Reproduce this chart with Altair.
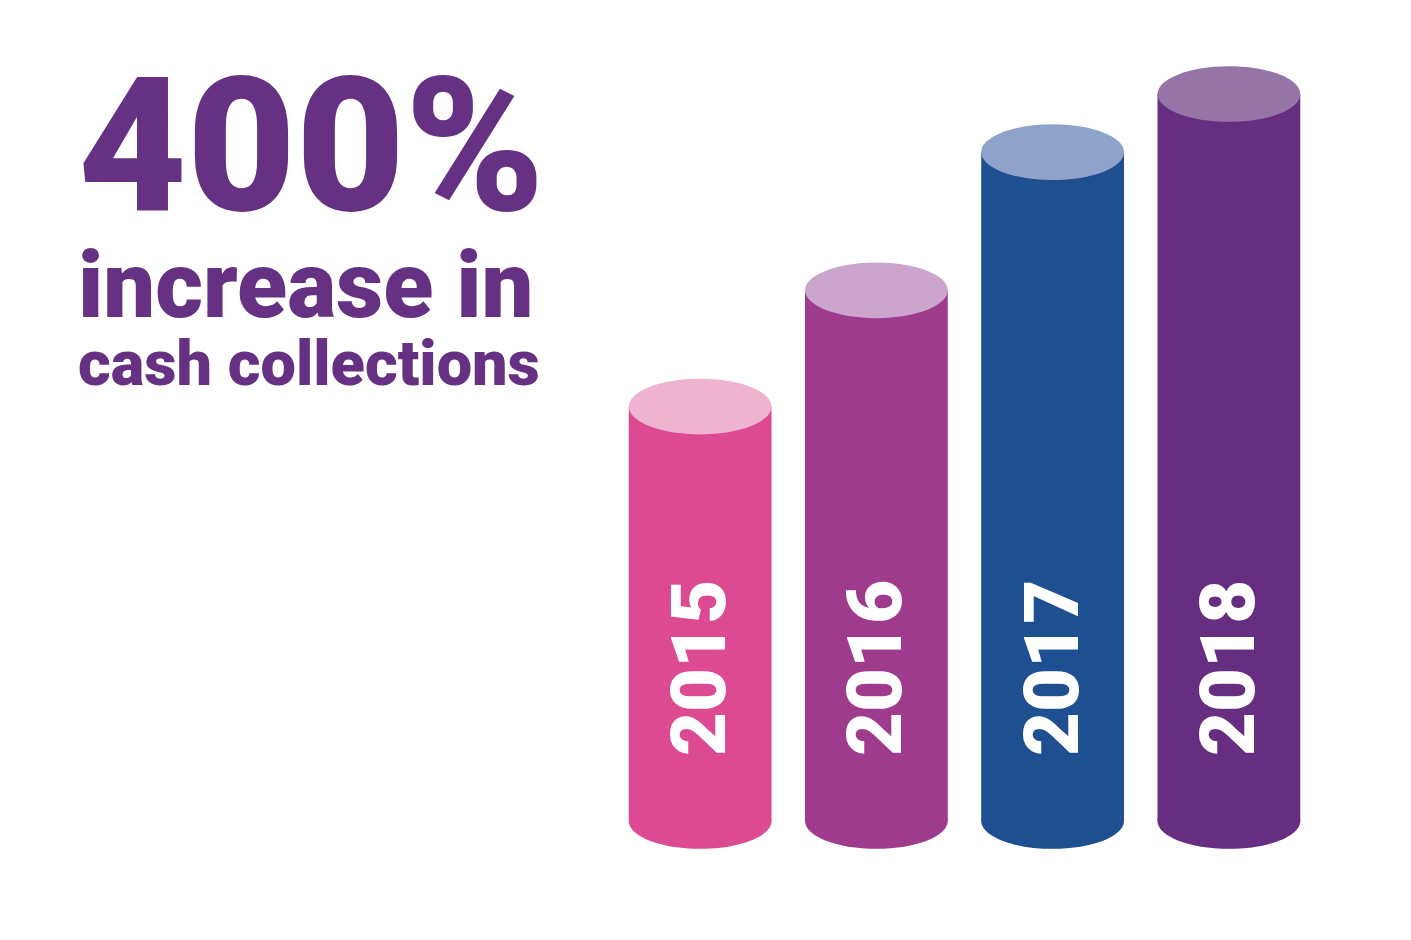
import altair as alt
import pandas as pd

years = ["2015", "2016", "2017", "2018"]
values = [57, 73, 92, 100]
body_colors = ["#DC4A92", "#9E3B8C", "#1D4F91", "#662D80"]
top_colors = ["#EDB3D0", "#CBA5CB", "#8FA2CA", "#9575A8"]

headline = "400%"
line1 = "increase in"
line2 = "cash collections"
text_color = "#663083"
FONT = "Roboto"

df = pd.DataFrame({
    "year": years,
    "value": values,
    "body": body_colors,
    "top": top_colors,
    "zero": [0] * len(years),
})

ELLIPSE = "M -1 0 A 1 0.39 0 1 1 1 0 A 1 0.39 0 1 1 -1 0 Z"
ELL_SIZE = 142.8 ** 2

xs = alt.X("year:N", axis=None,
           scale=alt.Scale(type="band", domain=years, range=[604, 1309],
                           paddingInner=0.19, paddingOuter=0.095))
ysc = alt.Scale(domain=[0, 100], range=[813, 86])

base = alt.Chart(df)

bottom = base.mark_point(shape=ELLIPSE, filled=True, opacity=1, size=ELL_SIZE,
                         strokeWidth=0).encode(
    x=xs,
    y=alt.Y("zero:Q", scale=ysc, axis=None),
    color=alt.Color("body:N", scale=None),
)

body = base.mark_bar(opacity=1).encode(
    x=xs,
    y=alt.Y("value:Q", scale=ysc, axis=None),
    color=alt.Color("body:N", scale=None),
)

top = base.mark_point(shape=ELLIPSE, filled=True, opacity=1, size=ELL_SIZE,
                      strokeWidth=0).encode(
    x=xs,
    y=alt.Y("value:Q", scale=ysc, axis=None),
    color=alt.Color("top:N", scale=None),
)

labels = base.mark_text(font=FONT, fontWeight=900, fontSize=76, color="white",
                        angle=270, align="left", baseline="middle", dy=2).encode(
    x=xs,
    y=alt.value(748),
    text="year:N",
)

head = alt.Chart(pd.DataFrame({"t": [headline]})).mark_text(
    font=FONT, fontWeight=900, fontSize=188, color=text_color,
    align="left", baseline="alphabetic").encode(
    x=alt.value(70), y=alt.value(202), text="t:N")
sub1 = alt.Chart(pd.DataFrame({"t": [line1]})).mark_text(
    font=FONT, fontWeight=900, fontSize=92, color=text_color,
    align="left", baseline="alphabetic").encode(
    x=alt.value(70), y=alt.value(309), text="t:N")
sub2 = alt.Chart(pd.DataFrame({"t": [line2]})).mark_text(
    font=FONT, fontWeight=900, fontSize=63, color=text_color,
    align="left", baseline="alphabetic").encode(
    x=alt.value(70), y=alt.value(377), text="t:N")

chart = alt.layer(bottom, body, top, labels, head, sub1, sub2).properties(
    width=1395, height=924, padding=0, autosize=alt.AutoSizeParams(type="none"),
    background="white",
).configure_view(stroke=None)

chart.save("out.html", embed_options={"renderer": "svg", "actions": False})
